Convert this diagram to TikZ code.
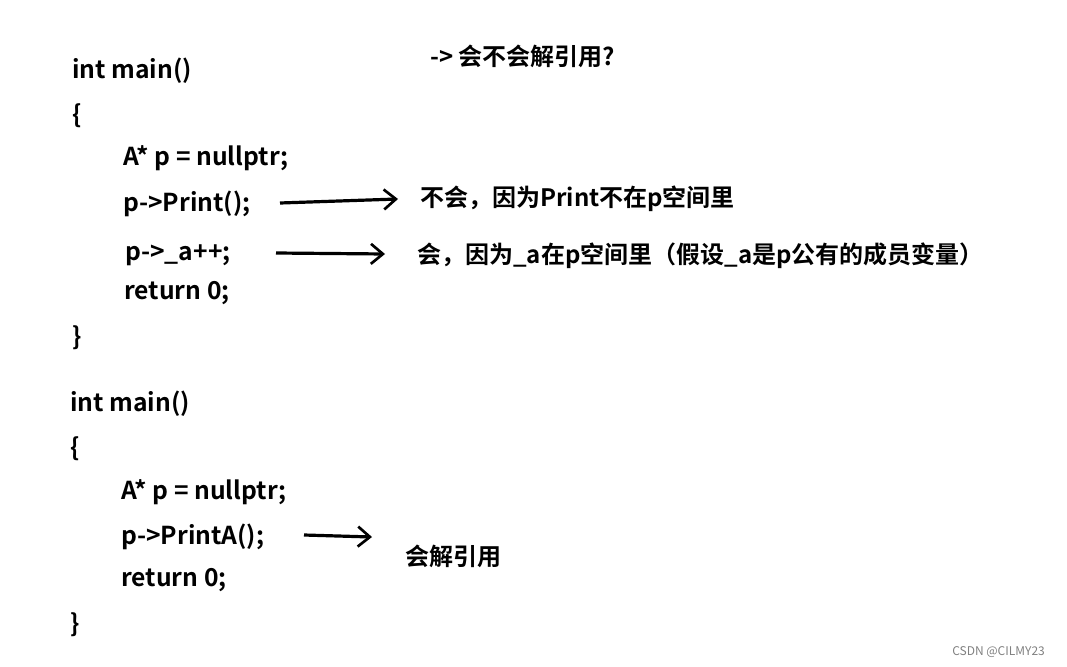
\documentclass[tikz,border=0pt]{standalone}
\usepackage{fontspec}
\setmainfont{Noto Sans CJK SC Bold}
\usetikzlibrary{arrows.meta}
\tikzset{codeLine/.style={anchor=west, inner sep=0pt, font=\fontsize{18.5}{22}\selectfont},
  noteText/.style={anchor=west, inner sep=0pt, font=\fontsize{18}{22}\selectfont},
  handArrow/.style={line width=2.4pt, -{Straight Barb[length=9pt,width=15pt,line width=2pt]}}}
\begin{document}
\begin{tikzpicture}[x=0.75pt,y=-0.75pt]
		\useasboundingbox (0,0) rectangle (1067,667);
		% first program
		\node (mainA) [codeLine] at (72,71) {int main()};
		\node (openA) [codeLine] at (72,116) {\{};
		\node (declA) [codeLine] at (123,158) {A* p = nullptr;};
		\node (printA) [codeLine] at (123,204) {p->Print();};
		\node (incA) [codeLine] at (125,255) {p->\_a++;};
		\node (retA) [codeLine] at (124,293) {return 0;};
		\node (closeA) [codeLine] at (72,338) {\}};
		\node (question) [noteText] at (430,56) {-> 会不会解引用?};
		\node (noteA) [noteText] at (420,199) {不会，因为Print不在p空间里};
		\node (noteB) [noteText] at (417,256) {会，因为\_a在p空间里（假设\_a是p公有的成员变量）};
		\coordinate (tailA) at (280,203);
		\coordinate (tailB) at (276,253);
		\path [draw, handArrow] (tailA) -- (noteA.west -| 398,203);
		\path [draw, handArrow] (tailB) -- (385,254);
		% second program
		\node (mainB) [codeLine] at (70,404) {int main()};
		\node (openB) [codeLine] at (70,449) {\{};
		\node (declB) [codeLine] at (121,492) {A* p = nullptr;};
		\node (printB) [codeLine] at (121,537) {p->PrintA();};
		\node (retB) [codeLine] at (121,580) {return 0;};
		\node (closeB) [codeLine] at (70,625) {\}};
		\node (noteC) [noteText] at (405,556) {会解引用};
		\coordinate (tailC) at (304,535);
		\path [draw, handArrow] (tailC) -- (372,537);
		\node (mark) [anchor=west, inner sep=0pt, text=gray, font=\fontspec{Noto Sans CJK SC}\fontsize{9}{10}\selectfont] at (952,652) {CSDN @CILMY23};
	\end{tikzpicture}
\end{document}
